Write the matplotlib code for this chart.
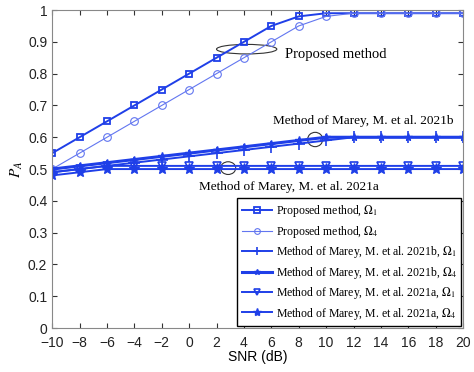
import matplotlib.pyplot as plt
from matplotlib.patches import Ellipse

snr = [-10, -8, -6, -4, -2, 0, 2, 4, 6, 8, 10, 12, 14, 16, 18, 20]

prop_o1 = [0.55, 0.60, 0.65, 0.70, 0.75, 0.80, 0.85, 0.90, 0.95, 0.98, 0.99, 0.99, 0.99, 0.99, 0.99, 0.99]
prop_o4 = [0.50, 0.55, 0.60, 0.65, 0.70, 0.75, 0.80, 0.85, 0.90, 0.95, 0.98, 0.99, 0.99, 0.99, 0.99, 0.99]
b_o1 = [0.49, 0.50, 0.51, 0.52, 0.53, 0.54, 0.55, 0.56, 0.57, 0.58, 0.59, 0.60, 0.60, 0.60, 0.60, 0.60]
b_o4 = [0.50, 0.51, 0.52, 0.53, 0.54, 0.55, 0.56, 0.57, 0.58, 0.59, 0.60, 0.60, 0.60, 0.60, 0.60, 0.60]
a_o1 = [0.49, 0.50, 0.51, 0.51, 0.51, 0.51, 0.51, 0.51, 0.51, 0.51, 0.51, 0.51, 0.51, 0.51, 0.51, 0.51]
a_o4 = [0.48, 0.49, 0.50, 0.50, 0.50, 0.50, 0.50, 0.50, 0.50, 0.50, 0.50, 0.50, 0.50, 0.50, 0.50, 0.50]

labels = [
    r"Proposed method, $\Omega_1$",
    r"Proposed method, $\Omega_4$",
    r"Method of Marey, M. et al. 2021b, $\Omega_1$",
    r"Method of Marey, M. et al. 2021b, $\Omega_4$",
    r"Method of Marey, M. et al. 2021a, $\Omega_1$",
    r"Method of Marey, M. et al. 2021a, $\Omega_4$",
]

blue = "#1f3fe8"
light = "#6276f0"

plt.rcParams['mathtext.fontset'] = 'stix'

fig = plt.figure(figsize=(4.74, 3.72), dpi=100)
ax = fig.add_axes([0.11, 0.118, 0.867, 0.855])

ax.plot(snr, prop_o1, color=blue, lw=1.4, marker='s', ms=5, mfc='none', mew=1.3, label=labels[0])
ax.plot(snr, prop_o4, color=light, lw=0.8, marker='o', ms=5.5, mfc='none', mew=0.8, label=labels[1])
ax.plot(snr, b_o1, color=blue, lw=1.4, marker='+', ms=8, mew=1.2, label=labels[2])
ax.plot(snr, b_o4, color=blue, lw=2.2, marker='*', ms=5.5, label=labels[3])
ax.plot(snr, a_o1, color=blue, lw=1.4, marker='v', ms=5.5, mfc='none', mew=1.2, label=labels[4])
ax.plot(snr, a_o4, color=blue, lw=1.4, marker='*', ms=8, label=labels[5])

ax.set_xlim(-10, 20)
ax.set_ylim(0, 1)
ax.set_xticks(snr)
ax.set_yticks([0, 0.1, 0.2, 0.3, 0.4, 0.5, 0.6, 0.7, 0.8, 0.9, 1])
ax.set_yticklabels(['0', '0.1', '0.2', '0.3', '0.4', '0.5', '0.6', '0.7', '0.8', '0.9', '1'])
ax.tick_params(direction='in', top=True, right=True, labelsize=10, colors='#333333', labelcolor='#222222')
ax.tick_params(axis='x', pad=6)
for lab in ax.get_xticklabels() + ax.get_yticklabels():
    lab.set_family('Liberation Sans')
for s in ax.spines.values():
    s.set_color('#888888')
ax.set_xlabel("SNR (dB)", family='Liberation Sans', fontsize=10, labelpad=0)
ax.set_ylabel(r"$P_A$", fontsize=11, labelpad=2)

# annotation ellipses
ax.add_patch(Ellipse((4.2, 0.877), 4.4, 0.03, fill=False, color='#333333', lw=0.8))
ax.add_patch(Ellipse((9.2, 0.593), 1.1, 0.045, fill=False, color='#333333', lw=0.8))
ax.add_patch(Ellipse((2.85, 0.503), 1.1, 0.04, fill=False, color='#333333', lw=0.8))
ax.text(7.0, 0.86, "Proposed method", family='Liberation Serif', fontsize=10.5, va='center', ha='left')
ax.text(12.7, 0.65, "Method of Marey, M. et al. 2021b", family='Liberation Serif', fontsize=9.5, va='center', ha='center')
ax.text(7.3, 0.445, "Method of Marey, M. et al. 2021a", family='Liberation Serif', fontsize=9.5, va='center', ha='center')

leg = ax.legend(loc='lower right', prop={'family': 'Liberation Serif', 'size': 8.5},
                fancybox=False, edgecolor='black', framealpha=1, borderaxespad=0.15,
                handlelength=2.6, labelspacing=0.38, handletextpad=0.3, markerscale=0.75,
                borderpad=0.4)
leg.get_frame().set_linewidth(1.0)

fig.savefig("out.png", dpi=100)
